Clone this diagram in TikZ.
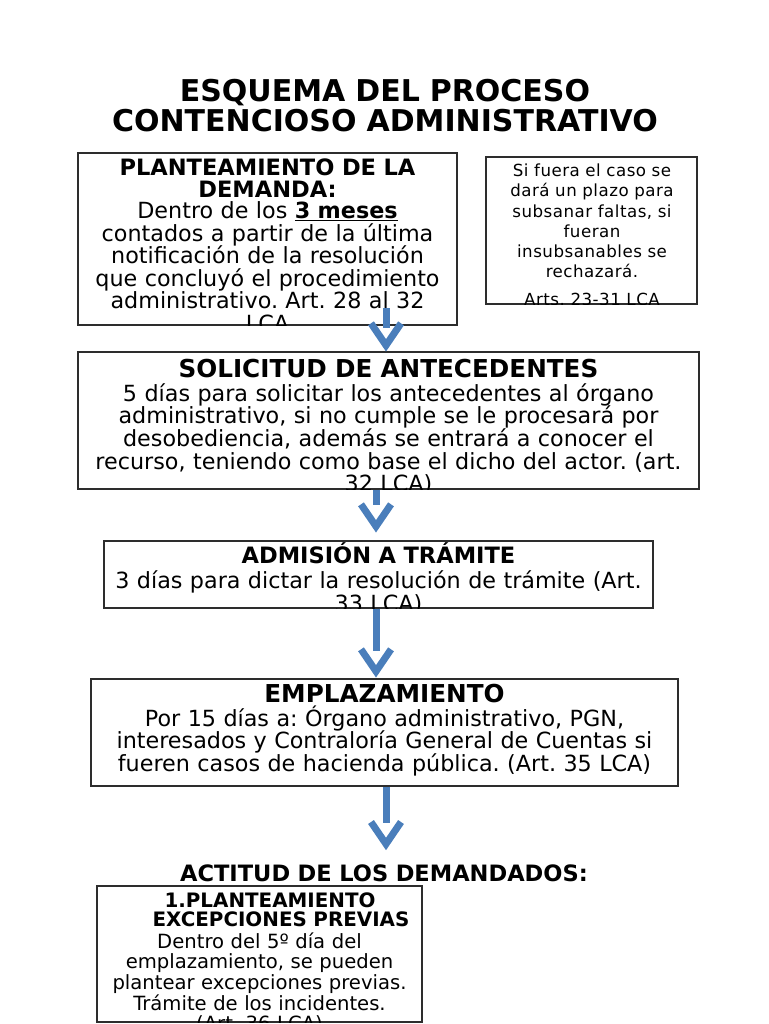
\documentclass[tikz,border=0pt]{standalone}
\usepackage{fontspec}
\setmainfont{DejaVu Sans}
\usetikzlibrary{calc}
\definecolor{arrowblue}{RGB}{74,126,187}
\definecolor{boxline}{RGB}{45,45,45}
\frenchspacing
\begin{document}
\begin{tikzpicture}[x=0.75pt,y=-0.75pt,
  boxwh/.style 2 args={draw=boxline,line width=1pt,fill=white,inner sep=0pt,
    minimum width=#1*0.75pt,minimum height=#2*0.75pt},
  txt/.style={anchor=base,inner sep=0pt,text width=760*0.75pt,align=center},
  shaft/.style={draw=arrowblue,line width=5.25pt},
  chev/.style={draw=arrowblue,line width=5.25pt,line join=miter},
  hbig/.style={font=\fontsize{18.5pt}{21.75pt}\selectfont\bfseries},
  hmid/.style={font=\fontsize{16.9pt}{16.5pt}\selectfont\bfseries},
  body/.style={font=\fontsize{16.7pt}{16.875pt}\selectfont},
  body3/.style={font=\fontsize{16.7pt}{17.05pt}\selectfont},
  small/.style={font=\fontsize{12.5pt}{15.2pt}\selectfont\addfontfeature{LetterSpace=3}},
  body6/.style={font=\fontsize{14.7pt}{15.5pt}\selectfont},
  head6/.style={font=\fontsize{14.9pt}{14.3pt}\selectfont\bfseries}]
\useasboundingbox (0,0) rectangle (768,1024);
\lineskiplimit=-20pt

% title
\node[txt,font=\fontsize{22.5pt}{21.75pt}\selectfont\bfseries] (title) at (385,102)
  {ESQUEMA DEL PROCESO\\CONTENCIOSO ADMINISTRATIVO};

% boxes
\node[boxwh={379}{172}] (b1) at (267.5,239) {};
\node[boxwh={211}{147}] (b2) at (591.5,230.5) {};
\node[boxwh={621}{137}] (b3) at (388.5,420.5) {};
\node[boxwh={549}{67}]  (b4) at (378.5,574.5) {};
\node[boxwh={587}{107}] (b5) at (384.5,732.5) {};
\node[boxwh={325}{136}] (b6) at (259.5,954) {};

% box 1 text
\begin{scope}
\clip (b1.north west) rectangle (b1.south east);
\node[txt,hmid] (h1) at (267.5,175) {PLANTEAMIENTO DE LA\\DEMANDA:};
\node[txt,body] (t1) at (267.5,218.5) {Dentro de los \underline{\textbf{3 meses}}\\contados a partir de la última\\notificación de la resolución\\que concluyó el procedimiento\\administrativo. Art. 28 al 32\\LCA};
\end{scope}

% box 2 text
\begin{scope}
\clip (b2.north west) rectangle (b2.south east);
\node[txt,small] (t2) at (592,176.5) {Si fuera el caso se\\dará un plazo para\\subsanar faltas, si\\fueran\\insubsanables se\\rechazará.\\[5.8pt]Arts. 23-31 LCA};
\end{scope}

% box 3 text
\begin{scope}
\clip (b3.north west) rectangle (b3.south east);
\node[txt,hbig] (h3) at (388.5,377) {SOLICITUD DE ANTECEDENTES};
\node[txt,body3] (t3) at (388.5,401) {5 días para solicitar los antecedentes al órgano\\administrativo, si no cumple se le procesará por\\desobediencia, además se entrará a conocer el\\recurso, teniendo como base el dicho del actor. (art.\\32 LCA)};
\end{scope}

% box 4 text
\begin{scope}
\clip (b4.north west) rectangle (b4.south east);
\node[txt,hmid] (h4) at (378.5,563) {ADMISIÓN A TRÁMITE};
\node[txt,body] (t4) at (378.5,588.5) {3 días para dictar la resolución de trámite (Art.\\33 LCA)};
\end{scope}

% box 5 text
\begin{scope}
\clip (b5.north west) rectangle (b5.south east);
\node[txt,hbig] (h5) at (384.5,702) {EMPLAZAMIENTO};
\node[txt,body] (t5) at (384.5,726) {Por 15 días a: Órgano administrativo, PGN,\\interesados y Contraloría General de Cuentas si\\fueren casos de hacienda pública. (Art. 35 LCA)};
\end{scope}

% actitud
\node[txt,hmid] (act) at (384,881) {ACTITUD DE LOS DEMANDADOS:};

% box 6 text
\begin{scope}
\clip (b6.north west) rectangle (b6.south east);
\node[txt,head6] (h6a) at (270,907) {1.PLANTEAMIENTO};
\node[txt,head6] (h6b) at (281,926) {EXCEPCIONES PREVIAS};
\node[txt,body6] (t6) at (259.5,948) {Dentro del 5º día del\\emplazamiento, se pueden\\plantear excepciones previas.\\Trámite de los incidentes.\\(Art. 36 LCA)};
\end{scope}

% arrows
\coordinate (a1s) at (386,308);
\coordinate (a1v) at ($(b3.north -| a1s)+(0,-6)$);
\draw[shaft] (a1s) -- (a1s |- b1.south) -- ++(0,2);
\draw[chev] ($(a1v)+(-15,-22)$) -- (a1v) -- ($(a1v)+(15,-22)$);

\coordinate (a2s) at (376,489);
\coordinate (a2v) at ($(b4.north -| a2s)+(0,-14)$);
\draw[shaft] (b3.south -| a2s) -- ($(a2s)+(0,16)$);
\draw[chev] ($(a2v)+(-15,-22)$) -- (a2v) -- ($(a2v)+(15,-22)$);

\coordinate (a3s) at (376,608);
\coordinate (a3v) at ($(b5.north -| a3s)+(0,-7)$);
\draw[shaft] (b4.south -| a3s) -- ($(a3s)+(0,43)$);
\draw[chev] ($(a3v)+(-15,-22)$) -- (a3v) -- ($(a3v)+(15,-22)$);

\coordinate (a4s) at (386,786);
\coordinate (a4v) at (386,844);
\draw[shaft] (b5.south -| a4s) -- ($(a4s)+(0,37)$);
\draw[chev] ($(a4v)+(-15,-22)$) -- (a4v) -- ($(a4v)+(15,-22)$);
\end{tikzpicture}
\end{document}
